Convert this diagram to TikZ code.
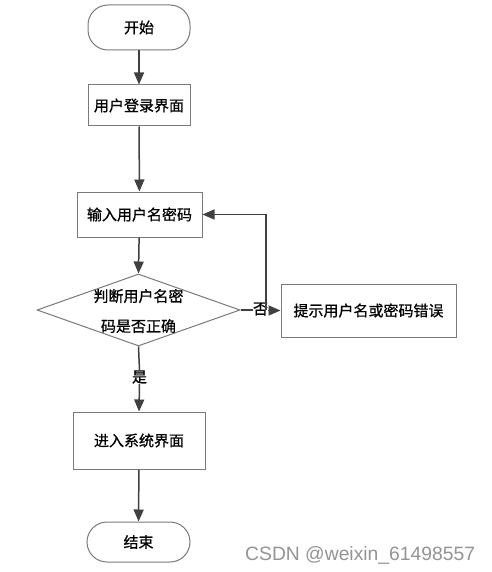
\documentclass[tikz,border=0pt]{standalone}
\usepackage{fontspec}
\setmainfont{Liberation Serif}
\newfontfamily\cjk[FakeBold=0.8]{Noto Sans CJK SC}
\newfontfamily\wmfont{Liberation Sans}
\usetikzlibrary{shapes.geometric,arrows.meta}
\definecolor{linecol}{HTML}{404040}
\definecolor{boxcol}{HTML}{7A7A7A}
\begin{document}
\begin{tikzpicture}[x=1pt,y=-1pt,
  every node/.style={font=\cjk\fontsize{15}{30}\selectfont, text=black},
  procbox/.style={draw=boxcol, line width=1pt, rectangle, inner sep=0pt},
  termbox/.style={draw=boxcol, line width=1pt, rectangle, rounded corners=20pt, inner sep=0pt},
  decbox/.style={draw=boxcol, line width=1pt, diamond, inner sep=0pt},
  conn/.style={draw=linecol, line width=1.5pt, -{Triangle[length=12pt,width=10pt]}},
  plainconn/.style={draw=linecol, line width=1.5pt},
  lbl/.style={inner sep=0pt}
]
\useasboundingbox (0,0) rectangle (491,572);
\fill[white] (0,0) rectangle (491,572);

\node[termbox, minimum width=102pt, minimum height=45pt] (start) at (139,27.5) {开始};
\node[procbox, minimum width=102pt, minimum height=41pt] (login) at (139,105.5) {用户登录界面};
\node[procbox, minimum width=125pt, minimum height=45pt] (input) at (139.5,214.5) {输入用户名密码};
\node[decbox, minimum width=203pt, minimum height=72pt] (judge) at (138.5,310) {};
\node[align=center, inner sep=0pt] (judgetxt) at (138.5,311) {判断用户名密\\码是否正确};
\node[procbox, minimum width=175pt, minimum height=53pt] (err) at (368.5,310.5) {提示用户名或密码错误};
\node[procbox, minimum width=132pt, minimum height=57pt] (enter) at (139,440.5) {进入系统界面};
\node[termbox, minimum width=103pt, minimum height=40pt] (end) at (138.5,542) {结束};

\node[lbl] (no) at (260.5,309) {否};
\node[lbl] (yes) at (139.5,377) {是};
\coordinate (fb) at (266,310);

\draw[conn] (start) -- (login);
\draw[conn] (login) -- (input);
\draw[conn] (input) -- (judge.north);
\draw[plainconn] (judge.east) -- (no.west |- judge.east);
\draw[conn] (no.east |- err.west) -- (err.west);
\draw[conn] (fb) |- (input.east);
\draw[plainconn] (judge.south) -- (yes.north);
\draw[conn] (yes.south) -- (enter.north);
\draw[conn] (enter) -- (end);

\node[font=\wmfont\fontsize{19.3}{19.3}\selectfont, text=black!42, anchor=base west, inner sep=0pt] (wm) at (245,560) {CSDN @weixin\_61498557};
\end{tikzpicture}
\end{document}
